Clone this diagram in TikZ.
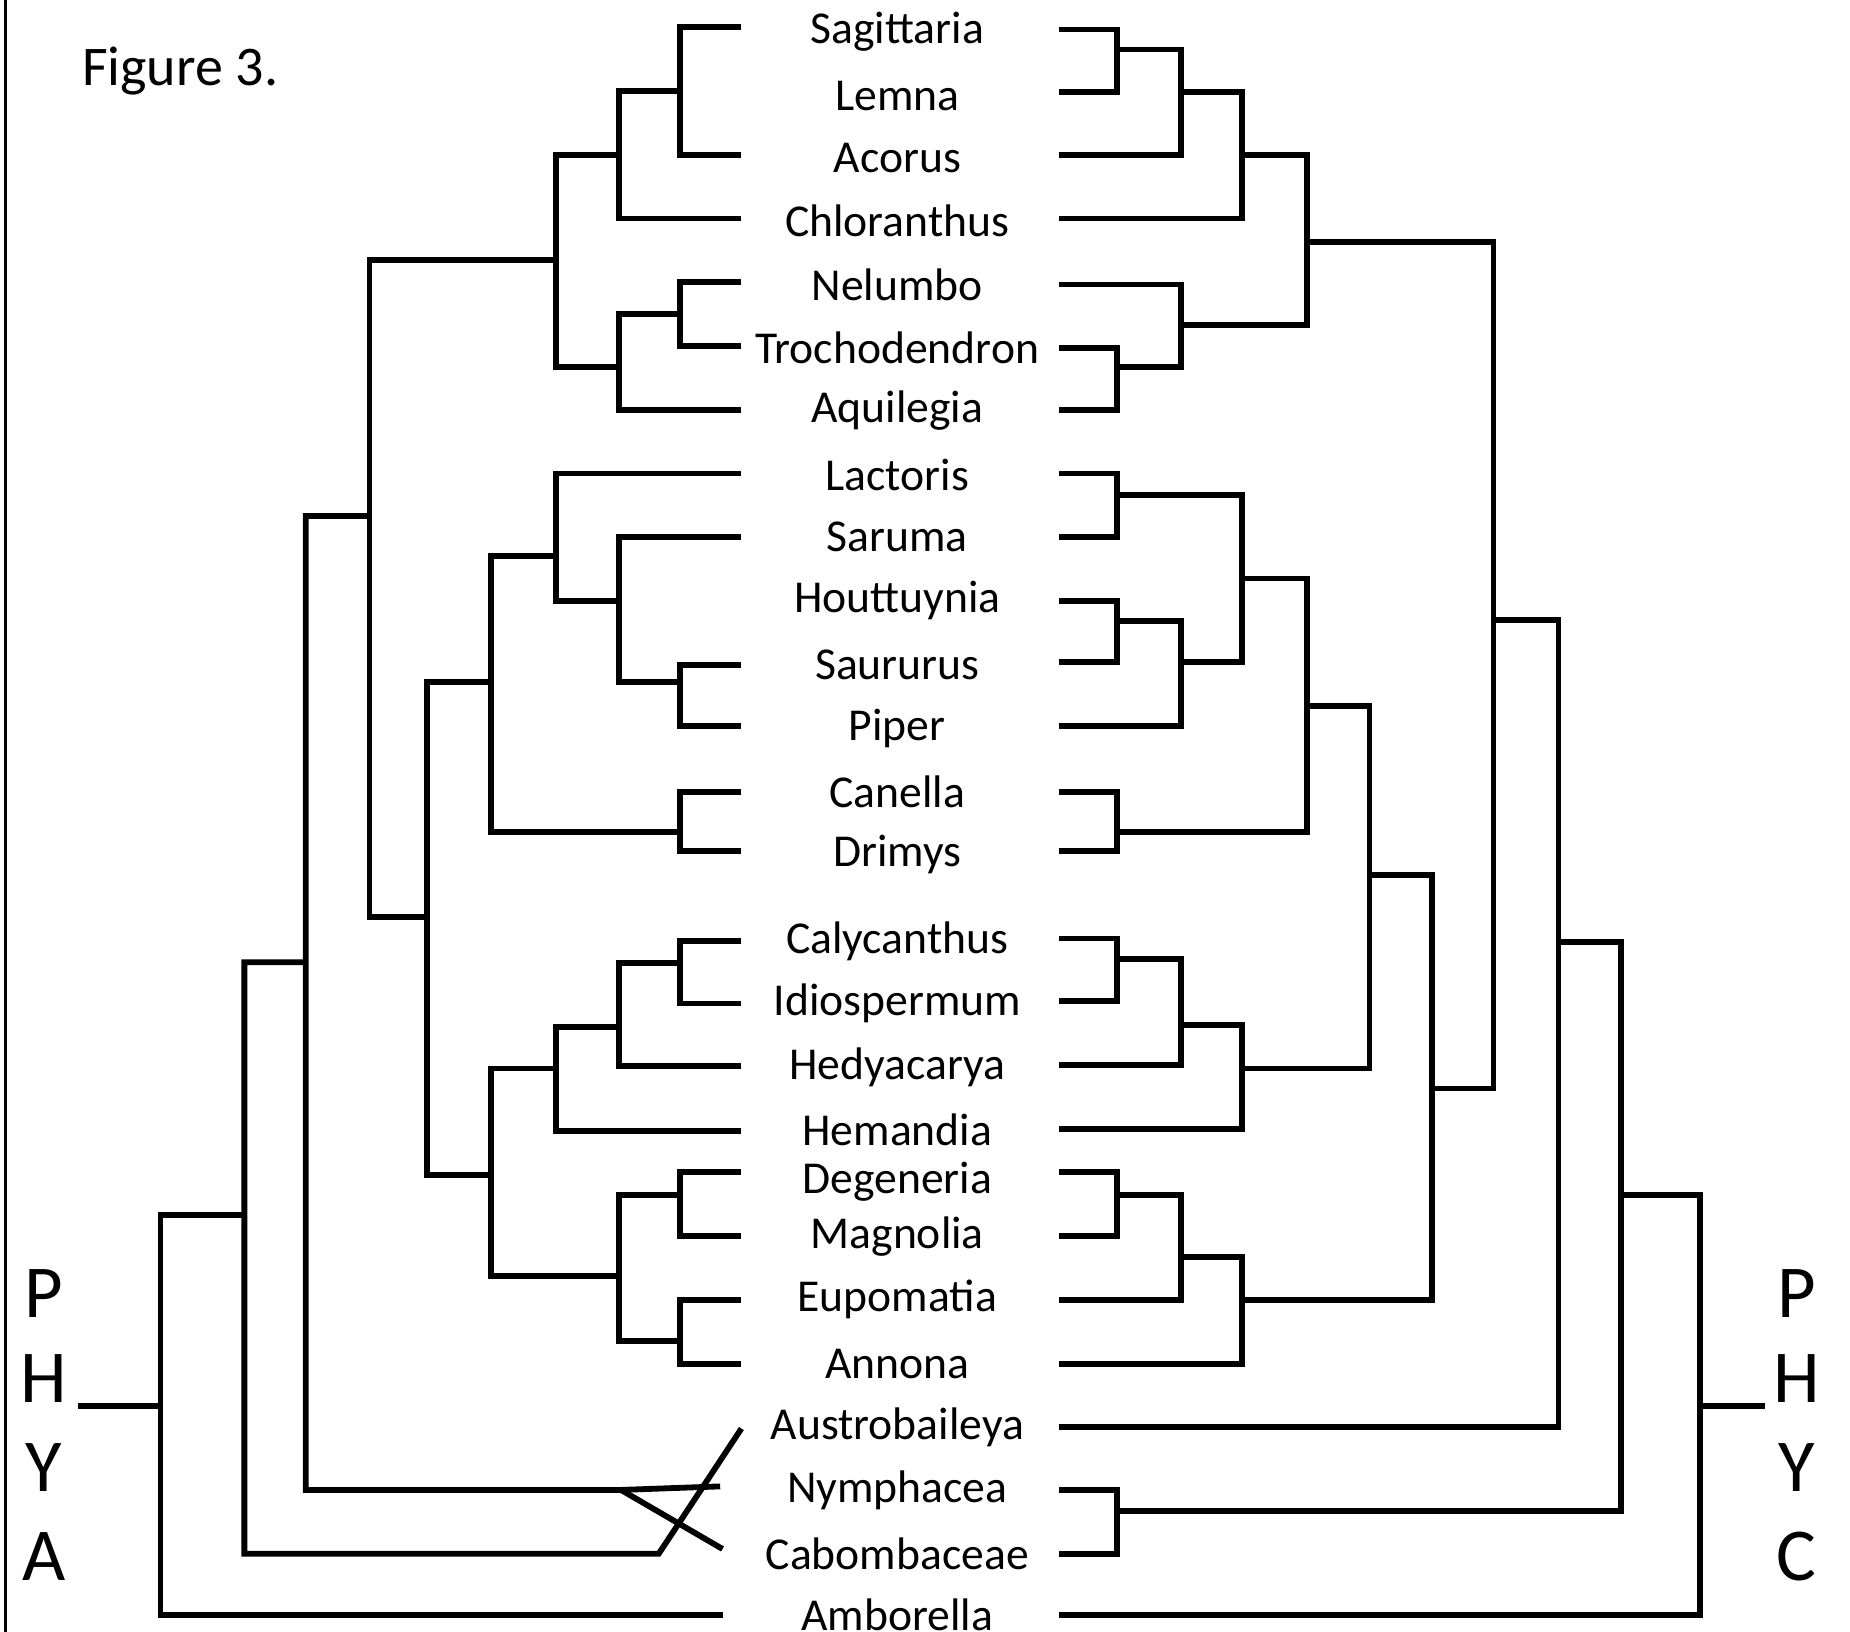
\documentclass[tikz,border=0pt]{standalone}
\usepackage{fontspec}
\setmainfont{Carlito}
\begin{document}
\begin{tikzpicture}[x=0.02cm,y=-0.02cm,line width=2.8pt,line join=miter,
  tx/.style={font=\fontsize{22}{22}\selectfont,inner sep=0pt},
  big/.style={font=\fontsize{36}{36}\selectfont,inner sep=0pt}]
\useasboundingbox (0,0) rectangle (1567,1382);
\draw[line width=1.5pt] (5,0) -- (5,1382);
\node[anchor=west,font=\fontsize{27}{27}\selectfont,inner sep=0pt] (fig) at (67,60) {Figure 3.};
% labels
\foreach \n/\y in {Sagittaria/27,Lemna/81,Acorus/134,Chloranthus/187,Nelumbo/241,Trochodendron/295,Aquilegia/348,Lactoris/402,Saruma/455,Houttuynia/509,Saururus/563,Piper/617,Canella/671,Drimys/724,Calycanthus/797,Idiospermum/850,Hedyacarya/904,Hemandia/957,Degeneria/1001,Magnolia/1047,Eupomatia/1101,Annona/1155,Austrobaileya/1209,Nymphacea/1262,Cabombaceae/1316,Amborella/1368}
  \node[tx] (\n) at (760,\y) {\n};
\foreach \l/\y [count=\i] in {P/1096,H/1168,Y/1243,A/1318} \node[big] (l\i) at (37,\y) {\l};
\foreach \l/\y [count=\i] in {P/1096,H/1168,Y/1243,C/1318} \node[big] (r\i) at (1522,\y) {\l};
% LEFT TREE
\draw (628,23) -| (576,131) -- (628,131);
\draw (576,77) -| (524,185) -- (628,185);
\draw (628,239) -| (576,293) -- (628,293);
\draw (576,266) -| (524,347) -- (628,347);
\draw (524,131) -| (471,311) -- (524,311);
\draw (471,220) -| (313,777) -- (362,777);
\draw (628,401) -| (471,509) -- (524,509);
\draw (628,455) -| (524,578) -- (576,578);
\draw (628,563) -| (576,615) -- (628,615);
\draw (628,671) -| (576,721) -- (628,721);
\draw (471,471) -| (416,705) -- (576,705);
\draw (416,578) -| (362,995) -- (416,995);
\draw (628,797) -| (576,850) -- (628,850);
\draw (576,816) -| (524,903) -- (628,903);
\draw (524,870) -| (471,958) -- (628,958);
\draw (628,993) -| (576,1047) -- (628,1047);
\draw (628,1101) -| (576,1155) -- (628,1155);
\draw (576,1012) -| (524,1136) -- (576,1136);
\draw (471,905) -| (416,1081) -- (524,1081);
\draw (313,437) -| (259,1262) -- (526,1262) -- (610,1259);
\draw (526,1262) -- (612,1312);
\draw (259,815) -| (207,1316) -- (558,1316) -- (628,1210);
\draw (207,1029) -| (136,1368) -- (612,1368);
\draw (66,1191) -- (136,1191);
% RIGHT TREE
\draw (897,25) -| (946,78) -- (897,78);
\draw (946,42) -| (1000,131) -- (897,131);
\draw (1000,78) -| (1052,185) -- (897,185);
\draw (897,295) -| (946,347) -- (897,347);
\draw (897,241) -| (1000,311) -- (946,311);
\draw (1052,131) -| (1107,275) -- (1000,275);
\draw (1107,205) -| (1265,922) -- (1213,922);
\draw (897,401) -| (946,455) -- (897,455);
\draw (897,509) -| (946,561) -- (897,561);
\draw (946,526) -| (1000,615) -- (897,615);
\draw (946,419) -| (1052,561) -- (1000,561);
\draw (897,671) -| (946,721) -- (897,721);
\draw (1052,490) -| (1107,705) -- (946,705);
\draw (1107,598) -| (1160,905) -- (1052,905);
\draw (897,795) -| (946,848) -- (897,848);
\draw (946,812) -| (1000,902) -- (897,902);
\draw (1000,868) -| (1052,956) -- (897,956);
\draw (897,993) -| (946,1047) -- (897,1047);
\draw (946,1012) -| (1000,1101) -- (897,1101);
\draw (1000,1065) -| (1052,1155) -- (897,1155);
\draw (1160,741) -| (1213,1101) -- (1052,1101);
\draw (1265,525) -| (1320,1209) -- (897,1209);
\draw (897,1262) -| (946,1316) -- (897,1316);
\draw (1320,798) -| (1373,1280) -- (946,1280);
\draw (1373,1012) -| (1440,1368) -- (897,1368);
\draw (1440,1191) -- (1495,1191);
\end{tikzpicture}
\end{document}
